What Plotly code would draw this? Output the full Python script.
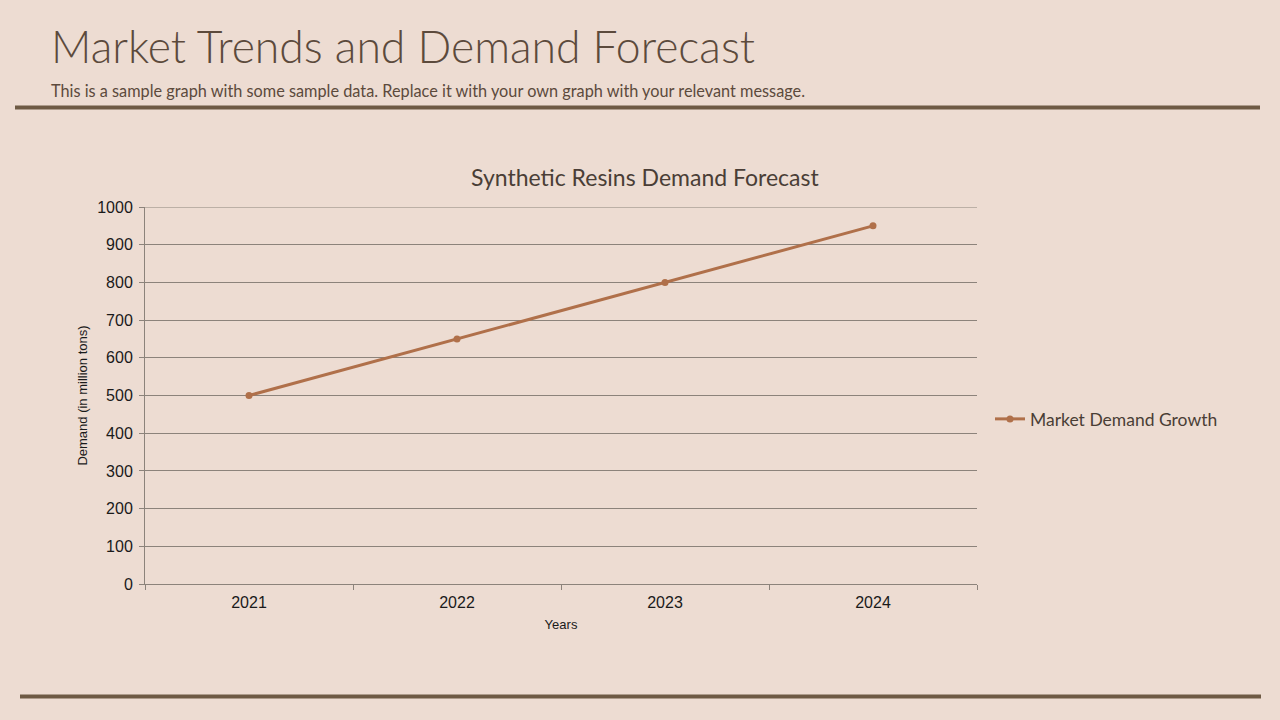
import plotly.graph_objects as go

years = ["2021", "2022", "2023", "2024"]
demand = [500, 650, 800, 950]
series_name = "Market Demand Growth"
y_ticks = [0, 100, 200, 300, 400, 500, 600, 700, 800, 900, 1000]

BG = "#EDDCD2"
LINE = "#B0704A"
RULE = "#6E5A44"
GRID = "#8C837B"

L, R, T, B = 145, 977, 207, 584
W, H = R - L, B - T

def px(x):
    return (x - L) / W

def py(y):
    return (B - y) / H

fig = go.Figure()
fig.add_trace(go.Scatter(
    x=years, y=demand, mode="lines+markers", name=series_name,
    line=dict(color=LINE, width=3), marker=dict(color=LINE, size=7),
))

fig.update_layout(
    width=1280, height=720,
    paper_bgcolor=BG, plot_bgcolor=BG,
    margin=dict(l=L, r=1280 - R, t=T, b=720 - B),
    showlegend=True,
    legend=dict(x=px(990), y=py(419), xanchor="left", yanchor="middle",
                bgcolor="rgba(0,0,0,0)",
                font=dict(family="Lato, Noto Sans, sans-serif", size=17.5, color="#4A3E36")),
    xaxis=dict(type="category", tickson="boundaries", ticks="outside", ticklen=5,
               tickcolor=GRID, showline=True, linecolor=GRID, linewidth=1,
               showgrid=False, range=[-0.5, 3.5], ticklabelstandoff=4,
               tickfont=dict(family="Liberation Sans, Arial", size=16, color="#1a1a1a"),
               title=dict(text="Years", font=dict(family="Liberation Sans, Arial", size=13, color="#1a1a1a"), standoff=9)),
    yaxis=dict(range=[0, 1000], tickvals=y_ticks, ticks="outside", ticklen=5,
               tickcolor=GRID, showline=True, linecolor=GRID, linewidth=1,
               showgrid=True, gridcolor=GRID, gridwidth=1, zeroline=False,
               ticklabelstandoff=3,
               tickfont=dict(family="Liberation Sans, Arial", size=16, color="#1a1a1a"),
               title=dict(text="Demand (in million tons)", font=dict(family="Liberation Sans, Arial", size=13, color="#1a1a1a"), standoff=6)),
)

# top gridline at the range edge
fig.add_shape(type="line", xref="paper", yref="y", x0=0, x1=1, y0=y_ticks[-1], y1=y_ticks[-1],
              line=dict(color=GRID, width=1))

fig.add_annotation(text="Market Trends and Demand Forecast", xref="paper", yref="paper",
                   x=px(49), y=py(45), xanchor="left", yanchor="middle", showarrow=False,
                   font=dict(family="Lato, Noto Sans, sans-serif", size=44.5, weight=300, color="#5C4A3C"))
fig.add_annotation(text="This is a sample graph with some sample data. Replace it with your own graph with your relevant message.",
                   xref="paper", yref="paper", x=px(49), y=py(90), xanchor="left", yanchor="middle",
                   showarrow=False,
                   font=dict(family="Lato, Noto Sans, sans-serif", size=16.3, color="#5C4A3C"))
fig.add_annotation(text="Synthetic Resins Demand Forecast", xref="paper", yref="paper",
                   x=px(645), y=py(177), xanchor="center", yanchor="middle", showarrow=False,
                   font=dict(family="Lato, Noto Sans, sans-serif", size=23, color="#4A3E36"))

fig.add_shape(type="line", xref="paper", yref="paper", x0=px(15), x1=px(1260), y0=py(107.5), y1=py(107.5),
              line=dict(color=RULE, width=4))
fig.add_shape(type="line", xref="paper", yref="paper", x0=px(20), x1=px(1261), y0=py(696.5), y1=py(696.5),
              line=dict(color=RULE, width=4))

fig.write_html("out.html")
